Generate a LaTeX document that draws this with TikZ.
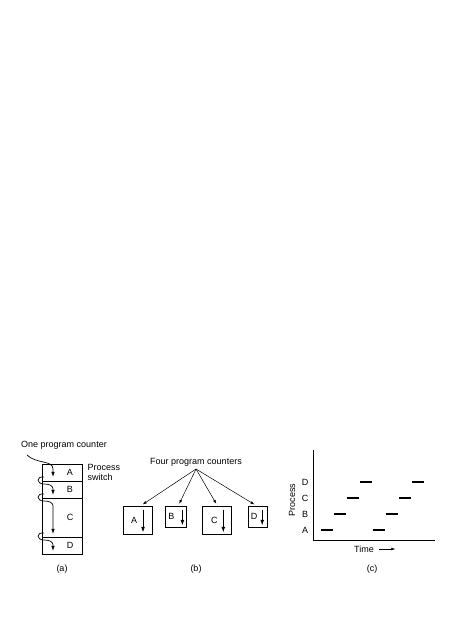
\documentclass[tikz,border=0pt]{standalone}
\usepackage{fontspec}
\setmainfont{Liberation Sans}
\usetikzlibrary{arrows.meta, positioning}

\begin{document}
\begin{tikzpicture}[x=1pt, y=1pt, >={Latex[length=4pt,width=2.8pt]}, font=\fontsize{9}{10.5}\selectfont]

        % Styles
        \tikzstyle{seg} = [draw, line width=0.9pt, minimum width=40pt, inner sep=0pt, outer sep=0pt]
        \tikzstyle{pcbox} = [draw, line width=0.9pt, minimum width=29pt, minimum height=28pt, inner sep=0pt]
        \tikzstyle{smallbox} = [pcbox, minimum width=21pt, minimum height=21pt]
        \tikzstyle{pcarrow} = [-{Latex[length=5pt,width=3.4pt]}, line width=0.7pt]
        \tikzstyle{thinarrow} = [->, line width=0.5pt, shorten >=2pt]
        \tikzstyle{inarrow} = [-{Latex[length=5.5pt,width=3.8pt]}, line width=0.9pt]
        \tikzstyle{bar} = [line width=2.4pt]

        \useasboundingbox (0,0) rectangle (474,632);

        % (a) One program counter
        \node (one) at (64,187) {One program counter};
        \coordinate (oneend) at (27,177);
        \node[seg, minimum height=17pt] (sA) at (62,159.5) {};
        \node[seg, minimum height=17pt, below=0pt of sA] (sB) {};
        \node[seg, minimum height=39pt, below=0pt of sB] (sC) {};
        \node[seg, minimum height=17pt, below=0pt of sC] (sD) {};
        \foreach \s in {A,B,C,D}
            \node at ([xshift=8pt]s\s.center) {\s};
        \node[align=left, right=2pt of sA] (switch) {Process\\switch};

        % the counter jumping from process to process
        \draw[pcarrow] (oneend) .. controls (36,168) and (53,172) .. (53,163) -- ([xshift=11pt,yshift=4pt]sA.south west);
        \foreach \n in {B,C,D}
            \draw[pcarrow] ([shift={(2pt,4pt)}]s\n.north west) .. controls +(-8,1) and +(-8,0) .. ++(0,-7)
                .. controls +(6,0) and +(0,3) .. ++(9,-5) -- ([xshift=11pt,yshift=3pt]s\n.south west);
        \node (capa) at (62,63) {(a)};

        % (b) Four program counters
        \node (four) at (196,170) {Four program counters};
        \coordinate (apex) at (196,163);
        \node[pcbox] (bA) at (138,112) {};
        \node[smallbox, right=12pt of bA.north east, anchor=north west] (bB) {};
        \node[pcbox, right=15pt of bB.north east, anchor=north west] (bC) {};
        \node[smallbox, minimum width=19pt, right=16pt of bC.north east, anchor=north west] (bD) {};
        \foreach \b/\dx in {A/3,B/2.5,C/0.5,D/-1.5}
            \draw[thinarrow] (apex) -- ([xshift=\dx pt]b\b.north);
        \foreach \b/\lx/\ax in {A/-4/5, B/-4.5/6.5, C/-2.5/6.5, D/-3.5/4.5} {
            \node at ([xshift=\lx pt]b\b.center) {\b};
            \draw[inarrow] ([xshift=\ax pt,yshift=-4pt]b\b.north) -- ([xshift=\ax pt,yshift=2pt]b\b.south);
        }
        \node (capb) at (196,63) {(b)};

        % (c) Time line
        \coordinate (origin) at (313,91);
        \coordinate (ytop) at (313,182);
        \coordinate (xend) at (435,91);
        \draw[line width=1pt] (ytop) -- (origin) -- (xend);
        \foreach \r/\y in {A/102,B/118,C/134,D/150}
            \node (r\r) at (305,\y) {\r};
        \foreach \i/\r in {0/A,1/B,2/C,3/D,4/A,5/B,6/C,7/D}
            \draw[bar] ([xshift={15.5pt+13pt*\i}]r\r.center) -- ++(12,0);
        \node[rotate=90] (proc) at (292,132) {Process};
        \node (time) at (364,83) {Time};
        \draw[->, line width=0.5pt] ([xshift=2pt]time.east) -- ++(16,0);
        \node (capc) at (372,63) {(c)};

\end{tikzpicture}
\end{document}
